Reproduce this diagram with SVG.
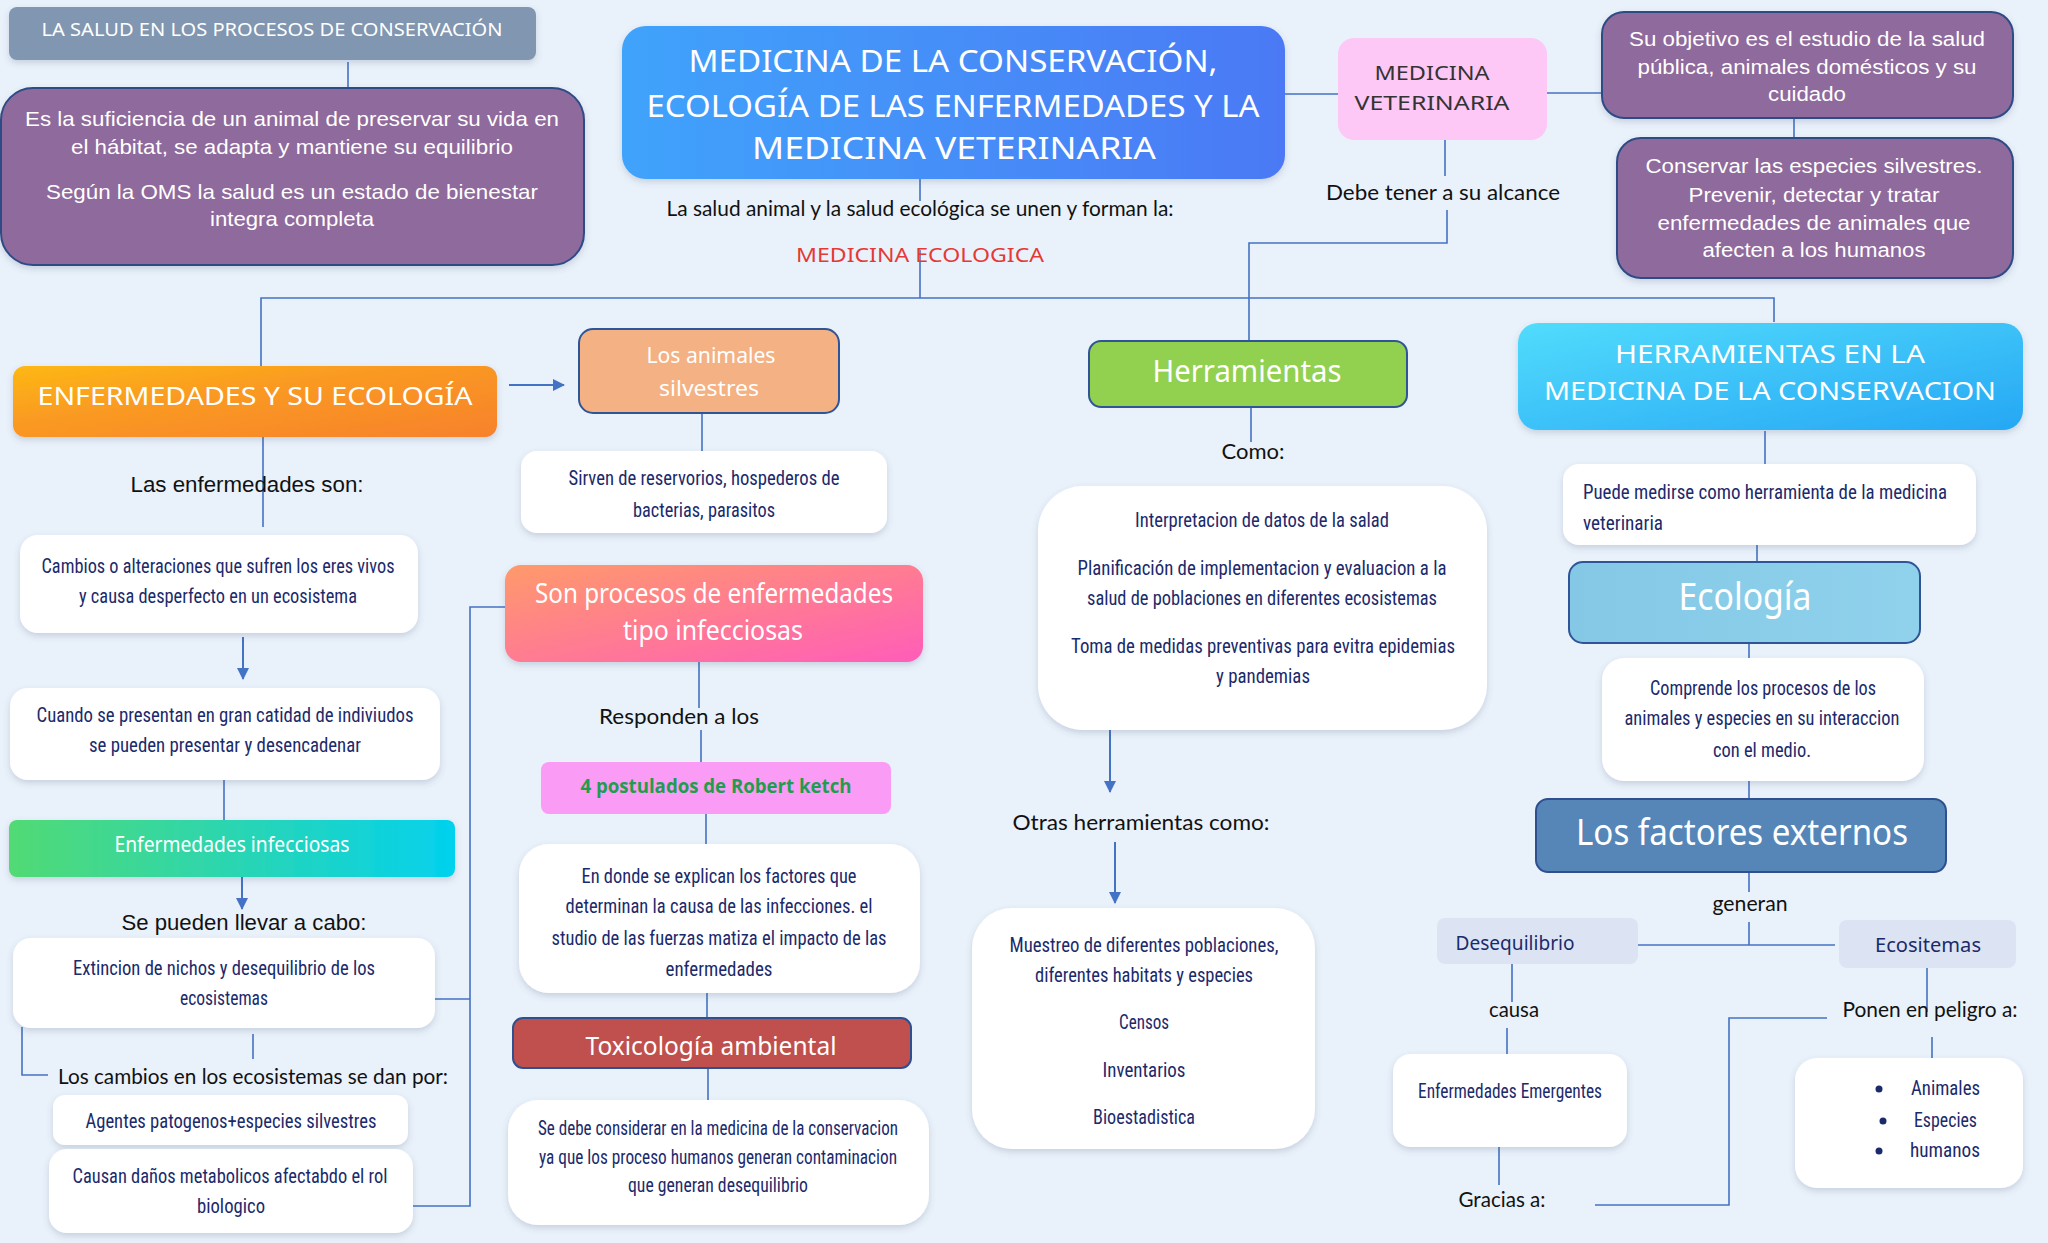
<svg xmlns="http://www.w3.org/2000/svg" width="2048" height="1243" viewBox="0 0 2048 1243">
<defs>
<style>
.ln{stroke:#4472c4;stroke-width:1.6;fill:none}
.ar{stroke:#4472c4;stroke-width:2;fill:none;marker-end:url(#ah)}
.wb{fill:#fff;filter:url(#sh)}
.pb{fill:#8f6b9c;stroke:#2e4b86;stroke-width:2;filter:url(#sh)}
.ws{fill:#fff;font-family:"Liberation Sans",Arial,sans-serif;text-anchor:middle}
.hd{fill:#fff;font-family:"Noto Sans","Liberation Sans",sans-serif;text-anchor:middle}
.cd{fill:#1b2a6b;font-family:"Liberation Sans Narrow","Roboto Condensed","DejaVu Sans Condensed","Liberation Sans",sans-serif;font-size:21px;text-anchor:middle}
.lb{fill:#111;font-family:Lato,"Liberation Sans",sans-serif;font-size:21px;text-anchor:middle}
.ar2{fill:#111;font-family:"Liberation Sans",Arial,sans-serif;font-size:22px;text-anchor:middle}
</style>
<marker id="ah" viewBox="0 0 12 12" refX="11" refY="6" markerWidth="12" markerHeight="12" markerUnits="userSpaceOnUse" orient="auto">
<path d="M0,0 L12,6 L0,12 z" fill="#4472c4"/>
</marker>
<filter id="sh" x="-10%" y="-20%" width="120%" height="150%">
<feDropShadow dx="0" dy="3" stdDeviation="3" flood-color="#4a5a80" flood-opacity="0.22"/>
</filter>
<linearGradient id="gT" x1="0" y1="0" x2="1" y2="0"><stop offset="0" stop-color="#40a3fb"/><stop offset="1" stop-color="#4b79f5"/></linearGradient>
<linearGradient id="gO" x1="0" y1="0" x2="1" y2="1"><stop offset="0" stop-color="#fdb814"/><stop offset="0.4" stop-color="#fa9a22"/><stop offset="1" stop-color="#f7812c"/></linearGradient>
<linearGradient id="gP" x1="0" y1="0" x2="1" y2="1"><stop offset="0" stop-color="#ff9a6a"/><stop offset="1" stop-color="#ff5db9"/></linearGradient>
<linearGradient id="gG" x1="0" y1="0" x2="1" y2="0"><stop offset="0" stop-color="#52da74"/><stop offset="1" stop-color="#03d1ee"/></linearGradient>
<linearGradient id="gC" x1="0" y1="0" x2="1" y2="1"><stop offset="0" stop-color="#52dcfc"/><stop offset="1" stop-color="#26a7f4"/></linearGradient>
<linearGradient id="gE" x1="0" y1="0" x2="1" y2="0"><stop offset="0" stop-color="#84c8e6"/><stop offset="1" stop-color="#90d2ec"/></linearGradient>
</defs>
<rect width="2048" height="1243" fill="#e9f1fa"/>

<g id="connectors">
<path class="ln" d="M348,62V88"/>
<path class="ln" d="M920,179V201M920,250V298"/>
<path class="ln" d="M1285,94H1338M1547,93H1602"/>
<path class="ln" d="M1794,118V138"/>
<path class="ln" d="M1445,140V176M1447,210V243H1249V341"/>
<path class="ln" d="M261,366V298H1774V322"/>
<path class="ar" d="M509,385H564"/>
<path class="ln" d="M263,437V527"/>
<path class="ln" d="M702,413V452"/>
<path class="ar" d="M243,637V679"/>
<path class="ln" d="M224,780V820"/>
<path class="ar" d="M242,877V909"/>
<path class="ln" d="M22,1027V1075H48"/>
<path class="ln" d="M253,1034V1059"/>
<path class="ln" d="M505,607H470V1206H413M435,999H470"/>
<path class="ln" d="M699,662V708M701,730V762"/>
<path class="ln" d="M706,814V844M707,992V1018M708,1068V1100"/>
<path class="ln" d="M1251,406V442"/>
<path class="ar" d="M1110,730V792"/>
<path class="ar" d="M1115,842V903"/>
<path class="ln" d="M1765,431V464M1757,545V562M1749,643V658M1749,781V799M1749,872V892M1749,922V945"/>
<path class="ln" d="M1624,945H1835"/>
<path class="ln" d="M1512,964V1002M1507,1028V1054M1499,1147V1185"/>
<path class="ln" d="M1595,1205H1729V1018H1827"/>
<path class="ln" d="M1927,968V1012M1932,1037V1063"/>
</g>

<g id="n-salud-titulo">
<rect x="9" y="7" width="527" height="53" rx="8" fill="#8196b0" filter="url(#sh)"/>
<text class="hd" x="272" y="36" font-size="18" textLength="461" lengthAdjust="spacingAndGlyphs">LA SALUD EN LOS PROCESOS DE CONSERVACIÓN</text>
</g>
<g id="n-suficiencia">
<rect class="pb" x="1" y="88" width="583" height="177" rx="32"/>
<text class="ws" font-size="21" x="292" y="126" textLength="534" lengthAdjust="spacingAndGlyphs">Es la suficiencia de un animal de preservar su vida en</text>
<text class="ws" font-size="21" x="292" y="154" textLength="442" lengthAdjust="spacingAndGlyphs">el hábitat, se adapta y mantiene su equilibrio</text>
<text class="ws" font-size="21" x="292" y="199" textLength="492" lengthAdjust="spacingAndGlyphs">Según la OMS la salud es un estado de bienestar</text>
<text class="ws" font-size="21" x="292" y="226" textLength="164" lengthAdjust="spacingAndGlyphs">integra completa</text>
</g>
<g id="n-titulo">
<rect x="622" y="26" width="663" height="153" rx="24" fill="url(#gT)" filter="url(#sh)"/>
<text class="hd" font-size="30" x="953" y="72" textLength="529" lengthAdjust="spacingAndGlyphs">MEDICINA DE LA CONSERVACIÓN,</text>
<text class="hd" font-size="30" x="953" y="117" textLength="613" lengthAdjust="spacingAndGlyphs">ECOLOGÍA DE LAS ENFERMEDADES Y LA</text>
<text class="hd" font-size="30" x="954" y="159" textLength="404" lengthAdjust="spacingAndGlyphs">MEDICINA VETERINARIA</text>
</g>
<g id="n-salud-animal">
<text class="lb" font-size="20" x="920" y="216" textLength="507" lengthAdjust="spacingAndGlyphs">La salud animal y la salud ecológica se unen y forman la:</text>
</g>
<g id="n-medicina-ecologica">
<text x="920" y="262" font-family="Noto Sans,Liberation Sans,sans-serif" font-size="20" fill="#e53935" text-anchor="middle" textLength="248" lengthAdjust="spacingAndGlyphs">MEDICINA ECOLOGICA</text>
</g>
<g id="n-med-vet">
<rect x="1338" y="38" width="209" height="102" rx="16" fill="#fdc8f5"/>
<text x="1432" y="80" font-family="Noto Sans,Liberation Sans,sans-serif" font-size="19" fill="#333" text-anchor="middle" textLength="115" lengthAdjust="spacingAndGlyphs">MEDICINA</text>
<text x="1432" y="110" font-family="Noto Sans,Liberation Sans,sans-serif" font-size="19" fill="#333" text-anchor="middle" textLength="155" lengthAdjust="spacingAndGlyphs">VETERINARIA</text>
</g>
<g id="n-objetivo">
<rect class="pb" x="1602" y="12" width="411" height="106" rx="22"/>
<text class="ws" font-size="20" x="1807" y="46" textLength="356" lengthAdjust="spacingAndGlyphs">Su objetivo es el estudio de la salud</text>
<text class="ws" font-size="20" x="1807" y="74" textLength="339" lengthAdjust="spacingAndGlyphs">pública, animales domésticos y su</text>
<text class="ws" font-size="20" x="1807" y="101" textLength="78" lengthAdjust="spacingAndGlyphs">cuidado</text>
</g>
<g id="n-conservar">
<rect class="pb" x="1617" y="138" width="396" height="140" rx="24"/>
<text class="ws" font-size="20" x="1814" y="173" textLength="337" lengthAdjust="spacingAndGlyphs">Conservar las especies silvestres.</text>
<text class="ws" font-size="20" x="1814" y="202" textLength="251" lengthAdjust="spacingAndGlyphs">Prevenir, detectar y tratar</text>
<text class="ws" font-size="20" x="1814" y="230" textLength="313" lengthAdjust="spacingAndGlyphs">enfermedades de animales que</text>
<text class="ws" font-size="20" x="1814" y="257" textLength="223" lengthAdjust="spacingAndGlyphs">afecten a los humanos</text>
</g>
<g id="n-debe-tener">
<text class="lb" font-size="22" x="1443" y="200" textLength="234" lengthAdjust="spacingAndGlyphs">Debe tener a su alcance</text>
</g>

<g id="n-enfermedades-ecologia">
<rect x="13" y="366" width="484" height="71" rx="12" fill="url(#gO)" filter="url(#sh)"/>
<text class="hd" font-size="26" x="255" y="405" textLength="435" lengthAdjust="spacingAndGlyphs">ENFERMEDADES Y SU ECOLOGÍA</text>
</g>
<g id="n-animales-silvestres">
<rect x="579" y="329" width="260" height="84" rx="14" fill="#f4b183" stroke="#2f5597" stroke-width="2"/>
<text class="hd" font-size="22" x="711" y="363" fill="#fdf3ea" textLength="129" lengthAdjust="spacingAndGlyphs">Los animales</text>
<text class="hd" font-size="22" x="709" y="396" fill="#fdf3ea" textLength="100" lengthAdjust="spacingAndGlyphs">silvestres</text>
</g>
<g id="n-sirven">
<rect class="wb" x="521" y="451" width="366" height="82" rx="16"/>
<text class="cd" x="704" y="485" textLength="271" lengthAdjust="spacingAndGlyphs">Sirven de reservorios, hospederos de</text>
<text class="cd" x="704" y="517" textLength="142" lengthAdjust="spacingAndGlyphs">bacterias, parasitos</text>
</g>
<g id="n-las-enfermedades">
<text class="ar2" font-size="21" x="247" y="492" textLength="233" lengthAdjust="spacingAndGlyphs">Las enfermedades son:</text>
</g>
<g id="n-cambios">
<rect class="wb" x="20" y="535" width="398" height="98" rx="18"/>
<text class="cd" x="218" y="573" textLength="353" lengthAdjust="spacingAndGlyphs">Cambios o alteraciones que sufren los eres vivos</text>
<text class="cd" x="218" y="603" textLength="278" lengthAdjust="spacingAndGlyphs">y causa desperfecto en un ecosistema</text>
</g>
<g id="n-cuando">
<rect class="wb" x="10" y="688" width="430" height="92" rx="18"/>
<text class="cd" x="225" y="722" textLength="377" lengthAdjust="spacingAndGlyphs">Cuando se presentan en gran catidad de indiviudos</text>
<text class="cd" x="225" y="752" textLength="272" lengthAdjust="spacingAndGlyphs">se pueden presentar y desencadenar</text>
</g>
<g id="n-enf-infecciosas">
<rect x="9" y="820" width="446" height="57" rx="8" fill="url(#gG)" filter="url(#sh)"/>
<text class="hd" font-size="21" x="232" y="852" textLength="235" lengthAdjust="spacingAndGlyphs">Enfermedades infecciosas</text>
</g>
<g id="n-se-pueden">
<text class="ar2" x="244" y="930" textLength="245" lengthAdjust="spacingAndGlyphs">Se pueden llevar a cabo:</text>
</g>
<g id="n-extincion">
<rect class="wb" x="13" y="938" width="422" height="90" rx="18"/>
<text class="cd" x="224" y="975" textLength="302" lengthAdjust="spacingAndGlyphs">Extincion de nichos y desequilibrio de los</text>
<text class="cd" x="224" y="1005" textLength="88" lengthAdjust="spacingAndGlyphs">ecosistemas</text>
</g>
<g id="n-los-cambios">
<text class="lb" font-size="20" x="253" y="1084" textLength="390" lengthAdjust="spacingAndGlyphs">Los cambios en los ecosistemas se dan por:</text>
</g>
<g id="n-agentes">
<rect class="wb" x="53" y="1095" width="355" height="50" rx="12"/>
<text class="cd" x="231" y="1128" textLength="291" lengthAdjust="spacingAndGlyphs">Agentes patogenos+especies silvestres</text>
</g>
<g id="n-causan">
<rect class="wb" x="49" y="1149" width="364" height="84" rx="18"/>
<text class="cd" x="230" y="1183" textLength="315" lengthAdjust="spacingAndGlyphs">Causan daños metabolicos afectabdo el rol</text>
<text class="cd" x="231" y="1213" textLength="68" lengthAdjust="spacingAndGlyphs">biologico</text>
</g>

<g id="n-son-procesos">
<rect x="505" y="565" width="418" height="97" rx="16" fill="url(#gP)" filter="url(#sh)"/>
<text class="hd" font-size="27" x="714" y="603" textLength="358" lengthAdjust="spacingAndGlyphs">Son procesos de enfermedades</text>
<text class="hd" font-size="27" x="713" y="640" textLength="180" lengthAdjust="spacingAndGlyphs">tipo infecciosas</text>
</g>
<g id="n-responden">
<text class="lb" font-size="20" x="679" y="724" textLength="160" lengthAdjust="spacingAndGlyphs">Responden a los</text>
</g>
<g id="n-postulados">
<rect x="541" y="762" width="350" height="52" rx="8" fill="#fa9bf5"/>
<text x="716" y="793" font-family="Open Sans,Liberation Sans,sans-serif" font-weight="bold" font-size="19" fill="#1f9d4f" text-anchor="middle" textLength="271" lengthAdjust="spacingAndGlyphs">4 postulados de Robert ketch</text>
</g>
<g id="n-en-donde">
<rect class="wb" x="519" y="844" width="401" height="149" rx="30"/>
<text class="cd" x="719" y="883" textLength="275" lengthAdjust="spacingAndGlyphs">En donde se explican los factores que</text>
<text class="cd" x="719" y="913" textLength="307" lengthAdjust="spacingAndGlyphs">determinan la causa de las infecciones. el</text>
<text class="cd" x="719" y="945" textLength="335" lengthAdjust="spacingAndGlyphs">studio de las fuerzas matiza el impacto de las</text>
<text class="cd" x="719" y="976" textLength="107" lengthAdjust="spacingAndGlyphs">enfermedades</text>
</g>
<g id="n-toxicologia">
<rect x="513" y="1018" width="398" height="50" rx="10" fill="#c0504d" stroke="#2f4f8f" stroke-width="2"/>
<text class="hd" font-size="26" x="711" y="1055" textLength="251" lengthAdjust="spacingAndGlyphs">Toxicología ambiental</text>
</g>
<g id="n-se-debe">
<rect class="wb" x="508" y="1100" width="421" height="125" rx="30"/>
<text class="cd" font-size="19" x="718" y="1135" textLength="360" lengthAdjust="spacingAndGlyphs">Se debe considerar en la medicina de la conservacion</text>
<text class="cd" font-size="19" x="718" y="1164" textLength="358" lengthAdjust="spacingAndGlyphs">ya que los proceso humanos generan contaminacion</text>
<text class="cd" font-size="19" x="718" y="1192" textLength="180" lengthAdjust="spacingAndGlyphs">que generan desequilibrio</text>
</g>

<g id="n-herramientas">
<rect x="1089" y="341" width="318" height="66" rx="12" fill="#92d050" stroke="#2f5597" stroke-width="2"/>
<text class="hd" font-size="31" x="1247" y="382" textLength="189" lengthAdjust="spacingAndGlyphs">Herramientas</text>
</g>
<g id="n-como">
<text class="lb" font-size="21" x="1253" y="459" textLength="63" lengthAdjust="spacingAndGlyphs">Como:</text>
</g>
<g id="n-interpretacion">
<rect class="wb" x="1038" y="486" width="449" height="244" rx="45"/>
<text class="cd" x="1262" y="527" textLength="254" lengthAdjust="spacingAndGlyphs">Interpretacion de datos de la salad</text>
<text class="cd" x="1262" y="575" textLength="369" lengthAdjust="spacingAndGlyphs">Planificación de implementacion y evaluacion a la</text>
<text class="cd" x="1262" y="605" textLength="350" lengthAdjust="spacingAndGlyphs">salud de poblaciones en diferentes ecosistemas</text>
<text class="cd" x="1263" y="653" textLength="384" lengthAdjust="spacingAndGlyphs">Toma de medidas preventivas para evitra epidemias</text>
<text class="cd" x="1263" y="683" textLength="94" lengthAdjust="spacingAndGlyphs">y pandemias</text>
</g>
<g id="n-otras">
<text class="lb" font-size="21" x="1141" y="830" textLength="257" lengthAdjust="spacingAndGlyphs">Otras herramientas como:</text>
</g>
<g id="n-muestreo">
<rect class="wb" x="972" y="908" width="343" height="241" rx="40"/>
<text class="cd" x="1144" y="952" textLength="269" lengthAdjust="spacingAndGlyphs">Muestreo de diferentes poblaciones,</text>
<text class="cd" x="1144" y="982" textLength="218" lengthAdjust="spacingAndGlyphs">diferentes habitats y especies</text>
<text class="cd" x="1144" y="1029" textLength="50" lengthAdjust="spacingAndGlyphs">Censos</text>
<text class="cd" x="1144" y="1077" textLength="83" lengthAdjust="spacingAndGlyphs">Inventarios</text>
<text class="cd" x="1144" y="1124" textLength="102" lengthAdjust="spacingAndGlyphs">Bioestadistica</text>
</g>

<g id="n-herr-medicina">
<rect x="1518" y="323" width="505" height="107" rx="20" fill="url(#gC)" filter="url(#sh)"/>
<text class="hd" font-size="25" x="1770" y="363" textLength="310" lengthAdjust="spacingAndGlyphs">HERRAMIENTAS EN LA</text>
<text class="hd" font-size="25" x="1770" y="400" textLength="452" lengthAdjust="spacingAndGlyphs">MEDICINA DE LA CONSERVACION</text>
</g>
<g id="n-puede">
<rect class="wb" x="1563" y="464" width="413" height="81" rx="16"/>
<text class="cd" x="1583" y="499" style="text-anchor:start" textLength="364" lengthAdjust="spacingAndGlyphs">Puede medirse como herramienta de la medicina</text>
<text class="cd" x="1583" y="530" style="text-anchor:start" textLength="80" lengthAdjust="spacingAndGlyphs">veterinaria</text>
</g>
<g id="n-ecologia">
<rect x="1569" y="562" width="351" height="81" rx="14" fill="url(#gE)" stroke="#2f5597" stroke-width="2"/>
<text class="hd" font-size="38" x="1745" y="610" textLength="133" lengthAdjust="spacingAndGlyphs">Ecología</text>
</g>
<g id="n-comprende">
<rect class="wb" x="1602" y="658" width="322" height="123" rx="22"/>
<text class="cd" x="1763" y="695" textLength="226" lengthAdjust="spacingAndGlyphs">Comprende los procesos de los</text>
<text class="cd" x="1762" y="725" textLength="275" lengthAdjust="spacingAndGlyphs">animales y especies en su interaccion</text>
<text class="cd" x="1762" y="757" textLength="98" lengthAdjust="spacingAndGlyphs">con el medio.</text>
</g>
<g id="n-factores">
<rect x="1536" y="799" width="410" height="73" rx="12" fill="#5586b7" stroke="#2f4f8f" stroke-width="2"/>
<text class="hd" font-size="36" x="1742" y="845" textLength="332" lengthAdjust="spacingAndGlyphs">Los factores externos</text>
</g>
<g id="n-generan">
<text class="lb" font-size="20" x="1750" y="911" textLength="75" lengthAdjust="spacingAndGlyphs">generan</text>
</g>
<g id="n-desequilibrio">
<rect x="1437" y="918" width="201" height="46" rx="8" fill="#dce4f3"/>
<text x="1515" y="950" font-family="Noto Sans,Liberation Sans,sans-serif" font-size="20" fill="#1b2a6b" text-anchor="middle" textLength="119" lengthAdjust="spacingAndGlyphs">Desequilibrio</text>
</g>
<g id="n-ecositemas">
<rect x="1839" y="920" width="177" height="48" rx="8" fill="#dce4f3"/>
<text x="1928" y="952" font-family="Noto Sans,Liberation Sans,sans-serif" font-size="20" fill="#1b2a6b" text-anchor="middle" textLength="106" lengthAdjust="spacingAndGlyphs">Ecositemas</text>
</g>
<g id="n-causa">
<text class="lb" font-size="20" x="1514" y="1017" textLength="50" lengthAdjust="spacingAndGlyphs">causa</text>
</g>
<g id="n-emergentes">
<rect class="wb" x="1393" y="1054" width="234" height="93" rx="18"/>
<text class="cd" font-size="20" x="1510" y="1098" textLength="184" lengthAdjust="spacingAndGlyphs">Enfermedades Emergentes</text>
</g>
<g id="n-gracias">
<text class="lb" font-size="20" x="1502" y="1207" textLength="87" lengthAdjust="spacingAndGlyphs">Gracias a:</text>
</g>
<g id="n-ponen">
<text class="lb" font-size="20" x="1930" y="1017" textLength="175" lengthAdjust="spacingAndGlyphs">Ponen en peligro a:</text>
</g>
<g id="n-lista">
<rect class="wb" x="1795" y="1058" width="228" height="130" rx="22"/>
<circle cx="1879" cy="1089" r="3.5" fill="#1b2a6b"/>
<circle cx="1883" cy="1121" r="3.5" fill="#1b2a6b"/>
<circle cx="1879" cy="1151" r="3.5" fill="#1b2a6b"/>
<text class="cd" x="1911" y="1095" style="text-anchor:start" textLength="69" lengthAdjust="spacingAndGlyphs">Animales</text>
<text class="cd" x="1914" y="1127" style="text-anchor:start" textLength="63" lengthAdjust="spacingAndGlyphs">Especies</text>
<text class="cd" x="1910" y="1157" style="text-anchor:start" textLength="70" lengthAdjust="spacingAndGlyphs">humanos</text>
</g>
</svg>
